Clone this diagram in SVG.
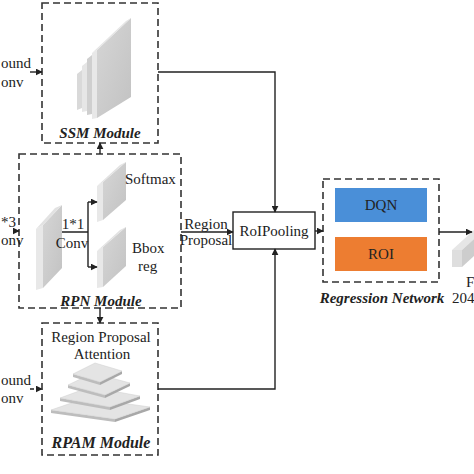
<svg xmlns="http://www.w3.org/2000/svg" width="474" height="474" viewBox="0 0 474 474">
<defs>
<style>
.dash{fill:none;stroke:#333;stroke-width:1.6;stroke-dasharray:7,4}
.ln{fill:none;stroke:#222;stroke-width:1.4}
.t{font-family:"Liberation Serif",serif;font-size:15px;fill:#222}
.ti{font-family:"Liberation Serif",serif;font-size:15px;font-weight:bold;font-style:italic;fill:#222}
.front{fill:url(#g1)}
.side{fill:#e8e8e8}
.top{fill:#e4e4e4;stroke:#cfcfcf;stroke-width:0.5}
.thick{fill:#bdbdbd}
</style>
<linearGradient id="g1" x1="0" y1="0" x2="1" y2="1">
<stop offset="0" stop-color="#d6d6d6"/>
<stop offset="1" stop-color="#c2c2c2"/>
</linearGradient>
<marker id="ah" viewBox="0 0 10 10" refX="9" refY="5" markerWidth="7" markerHeight="7" markerUnits="userSpaceOnUse" orient="auto">
<path d="M0,0 L10,5 L0,10 z" fill="#222"/>
</marker>
</defs>
<rect width="474" height="474" fill="#fff"/>

<g id="ssm">
<rect class="dash" x="42" y="3" width="116" height="140"/>
<polygon points="77,74 82,70 82,108 77,110" fill="#d9d9d9"/>
<polygon points="82,66 87,62 87,111 82,112" fill="#e6e6e6"/>
<polygon points="87,59 92,55 92,114 87,115" fill="#cfcfcf"/>
<polygon points="92,53 97,50 97,118 92,119" class="side"/>
<polygon points="97,50 131,18 131,97 97,118" class="front"/>
<polygon points="92,53 126,21 131,18 97,50" fill="#e4e4e4"/>
<text class="ti" x="100" y="138" text-anchor="middle">SSM Module</text>
</g>

<g id="rpn">
<rect class="dash" x="19" y="154" width="162" height="154"/>
<polygon points="36,229 43,225 43,288 36,290" class="side"/>
<polygon points="43,225 62,205 62,268 43,288" class="front"/>
<polygon points="36,229 55,208 62,205 43,225" fill="#e2e2e2"/>
<polygon points="97,186 103,182 103,220 97,222" class="side"/>
<polygon points="103,182 126,162 126,200 103,220" class="front"/>
<polygon points="97,186 120,165 126,162 103,182" fill="#e2e2e2"/>
<polygon points="97,251 103,247 103,287 97,288" class="side"/>
<polygon points="103,247 126,227 126,266 103,287" class="front"/>
<polygon points="97,251 120,230 126,227 103,247" fill="#e2e2e2"/>
<path class="ln" d="M62,232 H88 M88,202 V267"/>
<path class="ln" d="M88,202 H97" marker-end="url(#ah)"/>
<path class="ln" d="M88,267 H97" marker-end="url(#ah)"/>
<text class="t" x="73" y="229" text-anchor="middle">1*1</text>
<text class="t" x="72" y="248" text-anchor="middle">Conv</text>
<text class="t" x="125" y="184">Softmax</text>
<text class="t" x="132" y="253">Bbox</text>
<text class="t" x="138" y="271">reg</text>
<text class="ti" x="101" y="306" text-anchor="middle">RPN Module</text>
</g>

<g id="rpam">
<rect class="dash" x="42" y="323" width="116" height="132"/>
<text class="t" x="101" y="342" text-anchor="middle">Region Proposal</text>
<text class="t" x="102" y="359" text-anchor="middle">Attention</text>
<g>
<polygon points="51,410 115,419 115,422 51,413" class="thick"/>
<polygon points="115,419 150,407 150,410 115,422" fill="#a8a8a8"/>
<polygon class="top" points="51,410 86,398 150,407 115,419"/>
<polygon points="60,398 110,407 110,410 60,401" class="thick"/>
<polygon points="110,407 140,396 140,399 110,410" fill="#a8a8a8"/>
<polygon class="top" points="60,398 90,387 140,396 110,407"/>
<polygon points="68,385 105,395 105,398 68,388" class="thick"/>
<polygon points="105,395 130,383 130,386 105,398" fill="#a8a8a8"/>
<polygon class="top" points="68,385 93,373 130,383 105,395"/>
<polygon points="73,374 100,382 100,385 73,377" class="thick"/>
<polygon points="100,382 122,371 122,374 100,385" fill="#a8a8a8"/>
<polygon class="top" points="73,374 95,363 122,371 100,382"/>
</g>
<text class="ti" x="101" y="448" text-anchor="middle" style="font-size:16px">RPAM Module</text>
</g>

<g id="roipooling">
<rect x="233" y="212" width="82" height="37" fill="#fff" stroke="#222" stroke-width="1.4"/>
<text class="t" x="274" y="236" text-anchor="middle">RoIPooling</text>
</g>

<g id="regression">
<rect class="dash" x="323" y="179" width="116" height="103"/>
<rect id="dqn" x="335" y="188" width="92" height="34" fill="#4a8fd8"/>
<text class="t" x="381" y="210" text-anchor="middle" fill="#1c2540">DQN</text>
<rect id="roi" x="335" y="237" width="92" height="34" fill="#ed7d31"/>
<text class="t" x="381" y="259" text-anchor="middle">ROI</text>
<text class="ti" x="382" y="303" text-anchor="middle">Regression Network</text>
</g>

<g id="fc">
<polygon points="452,250 462,250 484,230 474,230" fill="#e6e6e6"/>
<polygon points="462,250 484,230 484,247 462,267" fill="#cdcdcd"/>
<rect x="452" y="250" width="10" height="17" fill="#dedede"/>
<text class="t" x="466" y="287">F</text>
<text class="t" x="452" y="303">204</text>
</g>

<g id="left-labels">
<text class="t" x="1" y="68">ound</text>
<text class="t" x="1" y="87">onv</text>
<text class="t" x="1" y="227">*3</text>
<text class="t" x="1" y="245">onv</text>
<text class="t" x="1" y="385">ound</text>
<text class="t" x="1" y="403">onv</text>
</g>

<g id="connectors">
<path class="ln" d="M30,72 H42" marker-end="url(#ah)"/>
<path class="ln" d="M13,231 H19" marker-end="url(#ah)"/>
<path class="ln" d="M30,389 H42" stroke-dasharray="4,3" marker-end="url(#ah)"/>
<path class="ln" d="M100,154 V143" marker-end="url(#ah)"/>
<path class="ln" d="M100,308 V323" marker-end="url(#ah)"/>
<path class="ln" d="M158,72 H275 V212" marker-end="url(#ah)"/>
<path class="ln" d="M158,389 H275 V249" marker-end="url(#ah)"/>
<path class="ln" d="M181,232 H233" marker-end="url(#ah)"/>
<text class="t" x="206" y="229" text-anchor="middle">Region</text>
<text class="t" x="206" y="245" text-anchor="middle">Proposal</text>
<path class="ln" d="M315,231 H323" marker-end="url(#ah)"/>
<path class="ln" d="M439,232 H472" marker-end="url(#ah)"/>
</g>
</svg>
